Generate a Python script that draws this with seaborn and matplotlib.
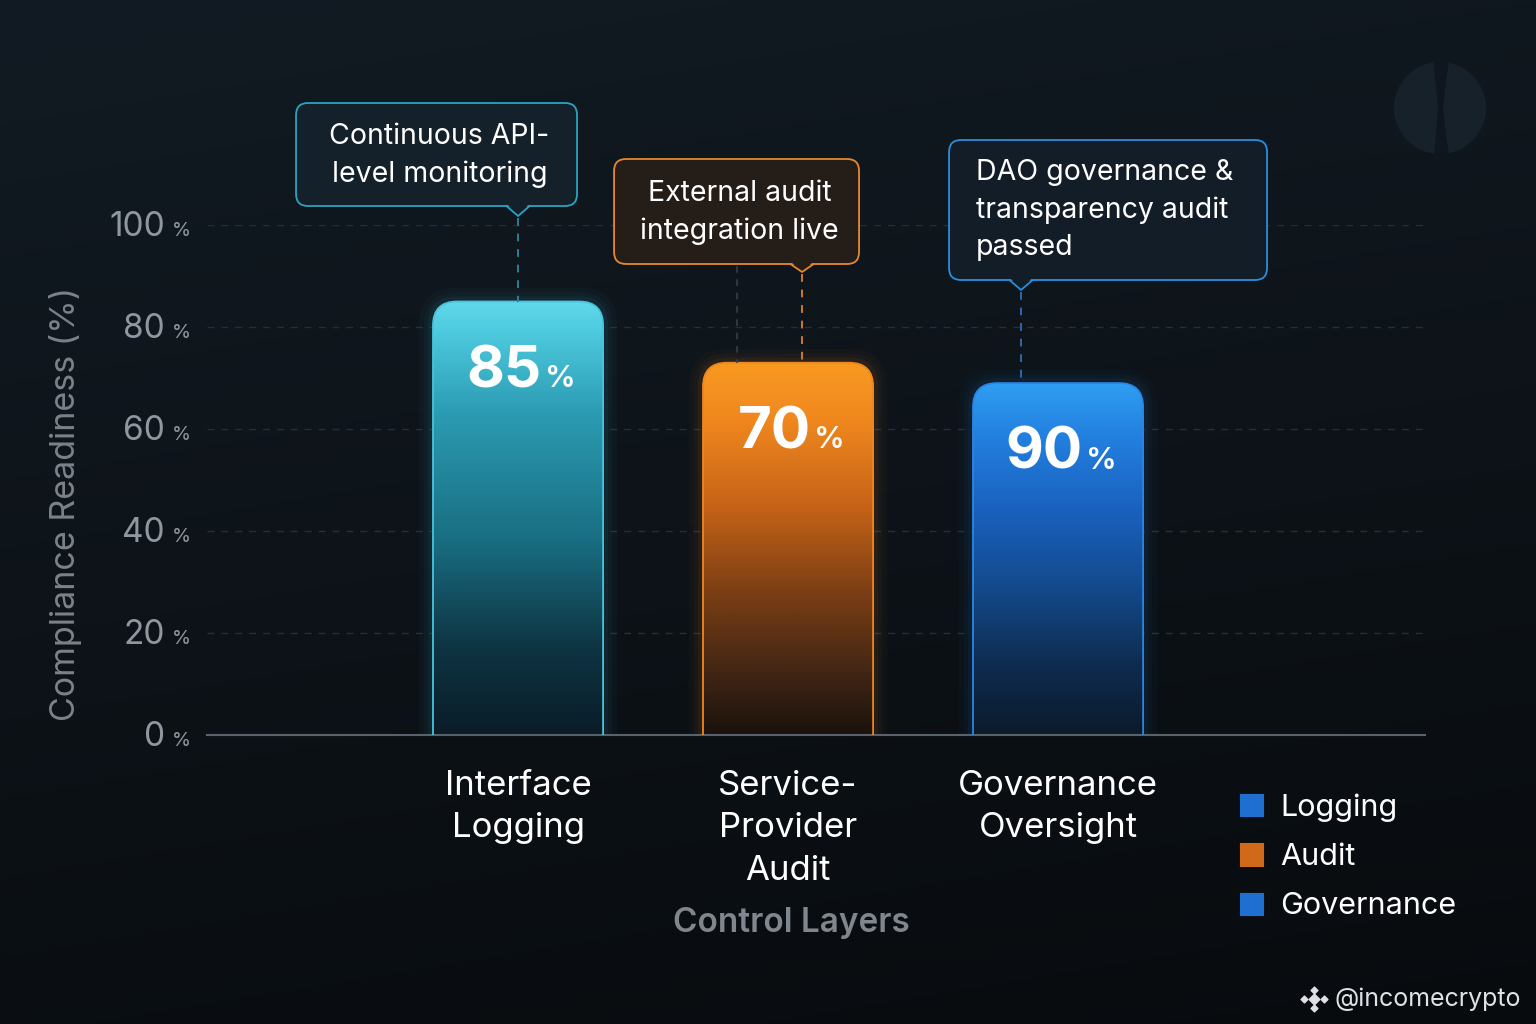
import numpy as np
import pandas as pd
import matplotlib
matplotlib.use("Agg")
import matplotlib.pyplot as plt
import seaborn as sns
from matplotlib.patches import FancyBboxPatch, Polygon, Patch, Circle
from matplotlib.colors import LinearSegmentedColormap

# ---------------- data ----------------
categories = ["Interface\nLogging", "Service-\nProvider\nAudit", "Governance\nOversight"]
bar_heights = [85, 73, 69]
value_labels = ["85", "70", "90"]
legend_labels = ["Logging", "Audit", "Governance"]
callout_texts = ["Continuous API-\nlevel monitoring",
                 "External audit\nintegration live",
                 "DAO governance &\ntransparency audit\npassed"]
y_ticks = [0, 20, 40, 60, 80, 100]
y_title = "Compliance Readiness (%)"
x_title = "Control Layers"
watermark = "@incomecrypto"

# ---------------- styles ----------------
grad_colors = [
    [(0.00, "#0a1c28"), (0.20, "#0e3442"), (0.45, "#196e82"), (0.75, "#2c9db4"), (0.92, "#4bc7dc"), (1.00, "#60d9ea")],
    [(0.00, "#1a120c"), (0.15, "#3d2414"), (0.38, "#7a3e14"), (0.62, "#c86418"), (0.85, "#f0881e"), (1.00, "#f89a22")],
    [(0.00, "#0b1a2a"), (0.20, "#0e2c50"), (0.42, "#134a8c"), (0.65, "#1a62c0"), (0.85, "#2380e0"), (1.00, "#2f9ef2")],
]
edge_colors = ["#47c4e0", "#f0861e", "#2a86e6"]
legend_colors = ["#1f6fd0", "#d06a1a", "#1f6fd0"]
callout_edge = ["#2aa3c2", "#e8882a", "#2a8ee0"]
callout_fill = ["#14212b", "#241d18", "#131d27"]
callout_dash = ["#2a7f95", "#d07a25", "#2a6aa8"]

W, H = 1536, 1024

sns.set_style("dark")
plt.rcParams['font.family'] = ['Inter', 'DejaVu Sans']

fig = plt.figure(figsize=(W / 100, H / 100), dpi=100)

# background gradient
bg = fig.add_axes([0, 0, 1, 1], zorder=-5)
yy = np.linspace(1, 0, 256)[:, None]
xx = np.linspace(0, 1, 384)[None, :]
top = np.array([18, 27, 35]) / 255
bot = np.array([8, 11, 14]) / 255
t = np.clip(yy * 0.8 + (1 - xx) * 0.2, 0, 1)
img = bot + (top - bot) * t[..., None]
bg.imshow(img, extent=[0, 1, 0, 1], aspect='auto', origin='upper')
bg.axis('off')

# main axes
ax = fig.add_axes([207 / W, 289 / H, 1218 / W, 510 / H])
ax.set_facecolor('none')
df = pd.DataFrame({"layer": categories, "value": bar_heights})
sns.barplot(data=df, x="layer", y="value", ax=ax, width=0.63, color="#ffffff", saturation=1)

XL = (-1.152, 3.359)
YL = (0, 100)
px_x = 1218 / (XL[1] - XL[0])
px_y = 510 / (YL[1] - YL[0])
asp = px_x / px_y
rx = 24 / px_x

rects = list(ax.patches)
bar_geo = []
for i, r in enumerate(rects):
    x0, w, h = r.get_x(), r.get_width(), r.get_height()
    r.set_visible(False)
    bar_geo.append((x0, w, h))
    # soft glow
    for k, a in zip([14, 9, 5], [0.03, 0.04, 0.06]):
        gx = k / px_x
        glow = FancyBboxPatch((x0 - gx, -12), w + 2 * gx, h + 12 + k / px_y,
                              boxstyle=f"round,pad=0,rounding_size={rx + gx}",
                              mutation_aspect=asp, transform=ax.transData,
                              facecolor=edge_colors[i], edgecolor='none', alpha=a, zorder=1)
        ax.add_patch(glow)
    clip = FancyBboxPatch((x0, -12), w, h + 12, boxstyle=f"round,pad=0,rounding_size={rx}",
                          mutation_aspect=asp, transform=ax.transData,
                          facecolor='none', edgecolor='none')
    ax.add_patch(clip)
    cmap = LinearSegmentedColormap.from_list(f"g{i}", grad_colors[i])
    grad = np.linspace(0, 1, 256)[:, None]
    im = ax.imshow(grad, extent=[x0, x0 + w, 0, h], origin='lower', aspect='auto',
                   cmap=cmap, zorder=2, interpolation='bicubic')
    im.set_clip_path(clip)
    edge = FancyBboxPatch((x0, -12), w, h + 12, boxstyle=f"round,pad=0,rounding_size={rx}",
                          mutation_aspect=asp, transform=ax.transData,
                          facecolor='none', edgecolor=edge_colors[i], lw=1.3, zorder=3)
    ax.add_patch(edge)

ax.set_xlim(*XL)
ax.set_ylim(*YL)
ax.set_yticks(y_ticks)
ax.set_yticklabels([])
ax.tick_params(length=0)
ax.grid(axis='y', color='#22303a', linestyle=(0, (5, 5)), lw=1)
ax.grid(axis='x', visible=False)
ax.set_axisbelow(True)
for s in ['left', 'top', 'right']:
    ax.spines[s].set_visible(False)
ax.spines['bottom'].set_color('#59616a')
ax.spines['bottom'].set_linewidth(1.5)
ax.set_xticks(range(len(categories)))
ax.set_xticklabels(categories, fontsize=25, color='white', linespacing=1.42)
ax.tick_params(axis='x', pad=25)
ax.set_xlabel('')
ax.set_ylabel('')

# overlay axes in image pixel coordinates (y down)
ov = fig.add_axes([0, 0, 1, 1], zorder=5)
ov.set_xlim(0, W)
ov.set_ylim(H, 0)
ov.axis('off')
ov.set_facecolor('none')

fig.canvas.draw()
renderer = fig.canvas.get_renderer()

def to_img(xd, yd):
    d = ax.transData.transform((xd, yd))
    return d[0], H - d[1]

# y tick labels: number + small %
for v in y_ticks:
    _, ty = to_img(0, v)
    ov.text(165, ty + 11, str(v), ha='right', va='baseline', fontsize=24, color='#9097a0')
    ov.text(172, ty + 11, "%", ha='left', va='baseline', fontsize=14, color='#9097a0')

# value labels inside bars
for i, (x0, w, h) in enumerate(bar_geo):
    cx, _ = to_img(x0 + w / 2, 0)
    _, by = to_img(0, h - 16.8)
    tn = ov.text(0, by, value_labels[i], ha='left', va='baseline', fontsize=42,
                 weight='bold', color='white', zorder=6)
    tp = ov.text(0, by, "%", ha='left', va='baseline', fontsize=22,
                 weight='semibold', color='white', zorder=6)
    wn = tn.get_window_extent(renderer).width
    wp = tp.get_window_extent(renderer).width
    gap = 3
    total = wn + gap + wp
    left = cx - total / 2 + 3
    tn.set_x(left)
    tp.set_x(left + wn + gap)

# callouts: (left_off, right_off, top_y, bottom_y, pointer_off, tip_y)
callout_geo = [(-222, 59, 103, 206, 0, 216),
               (-174, 71, 159, 264, 14, 272),
               (-109, 209, 140, 280, -37, 290)]
for i, (x0, w, h) in enumerate(bar_geo):
    cx, btop = to_img(x0 + w / 2, h)
    lo, ro, ty, byy, po, tip = callout_geo[i]
    L, R = cx + lo, cx + ro
    box = FancyBboxPatch((L, ty), R - L, byy - ty, boxstyle="round,pad=0,rounding_size=12",
                         facecolor=callout_fill[i], edgecolor=callout_edge[i], lw=1.3, zorder=3)
    ov.add_patch(box)
    px = cx + po
    tri = Polygon([(px - 11, byy - 2), (px, tip), (px + 11, byy - 2)], closed=True,
                  facecolor=callout_fill[i], edgecolor='none', zorder=4)
    ov.add_patch(tri)
    ov.plot([px - 11.6, px, px + 11.6], [byy, tip, byy], color=callout_edge[i], lw=1.3,
            zorder=4, solid_joinstyle='round')
    ov.plot([px, px], [tip + 2, btop], color=callout_dash[i], lw=1.4,
            linestyle=(0, (4, 4)), zorder=2)
    if i == 1:
        mc = (L + R) / 2
        ov.plot([mc, mc], [byy + 2, btop], color='#34404b', lw=1.2,
                linestyle=(0, (4, 4)), zorder=2)
    if i == 2:
        ov.text(L + 27, (ty + byy) / 2, callout_texts[i], ha='left', va='center',
                fontsize=20.5, color='white', linespacing=1.47, zorder=5)
    else:
        ov.text((L + R) / 2 + 3, (ty + byy) / 2 + 1, callout_texts[i], ha='center', va='center',
                fontsize=20.5, color='white', linespacing=1.47, multialignment='center', zorder=5)

# titles
fig.text(66 / W, 1 - 504 / H, y_title, rotation=90, fontsize=24.5, color='#7c828a',
         ha='center', va='center')
fig.text(791 / W, 1 - 923 / H, x_title, fontsize=24, color='#80868d', weight='semibold',
         ha='center', va='center')

# legend
handles = [Patch(facecolor=c, edgecolor=c, lw=0.8) for c in legend_colors]
fig.legend(handles, legend_labels, loc='upper left', bbox_to_anchor=(1228 / W, 1 - 781 / H),
           frameon=False, fontsize=22, labelcolor='white', handlelength=0.75, handleheight=0.75,
           handletextpad=0.55, labelspacing=0.7, borderaxespad=0)

# decorative top-right logo
ov.add_patch(Circle((1440, 108), 46, facecolor='#16212a', edgecolor='none', zorder=1))
ov.add_patch(Polygon([(1433, 58), (1449, 58), (1443, 108), (1449, 158), (1434, 158), (1438, 108)],
                     closed=True, facecolor='#0f161d', edgecolor='none', zorder=1))

# watermark
cxw, cyw = 1314, 999
ov.scatter([cxw], [cyw], marker='D', s=30, color='#dde2e7', zorder=6)
ov.scatter([cxw - 10, cxw + 10, cxw, cxw], [cyw, cyw, cyw - 9, cyw + 9], marker='D', s=12,
           color='#dde2e7', zorder=6)
ov.text(1335, cyw, watermark, fontsize=18, color='#dde2e7', ha='left', va='center', zorder=6)

fig.savefig("out.png", dpi=100, facecolor=fig.get_facecolor())
